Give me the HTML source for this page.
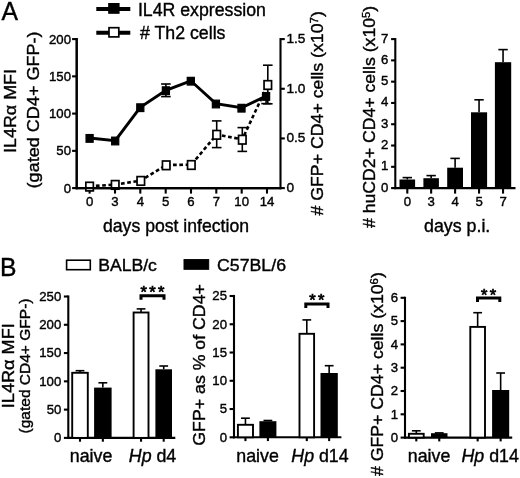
<!DOCTYPE html>
<html><head><meta charset="utf-8"><title>Figure</title>
<style>
html,body{margin:0;padding:0;background:#fff;}
svg{display:block;font-family:"Liberation Sans", Arial, Helvetica, sans-serif;fill:#000;}
text{stroke:#000;stroke-width:0.38px;}
</style></head><body>
<svg width="520" height="478" viewBox="0 0 520 478">
<rect x="0" y="0" width="520" height="478" fill="#fff" stroke="none"/>
<text x="1.60" y="19.90" font-size="26.2" text-anchor="start" textLength="16.5" lengthAdjust="spacingAndGlyphs" >A</text>
<line x1="96.30" y1="9.00" x2="130.30" y2="9.00" stroke="#000" stroke-width="4.1" />
<rect x="108.80" y="3.60" width="10.20" height="9.60" fill="#000" stroke="#000" stroke-width="1.2"/>
<text x="137.90" y="15.50" font-size="18" text-anchor="start" textLength="128" lengthAdjust="spacingAndGlyphs" >IL4R expression</text>
<line x1="96.30" y1="32.80" x2="130.30" y2="32.80" stroke="#000" stroke-width="4.1" />
<rect x="109.00" y="27.70" width="9.80" height="9.20" fill="#fff" stroke="#000" stroke-width="1.7"/>
<text x="140.00" y="38.80" font-size="18" text-anchor="start" textLength="85.5" lengthAdjust="spacingAndGlyphs" ># Th2 cells</text>
<line x1="76.70" y1="38.05" x2="76.70" y2="189.15" stroke="#000" stroke-width="2.1" />
<line x1="75.65" y1="188.10" x2="281.30" y2="188.10" stroke="#000" stroke-width="2.1" />
<line x1="72.10" y1="188.10" x2="76.70" y2="188.10" stroke="#000" stroke-width="2.1" />
<text x="71.00" y="192.70" font-size="13.2" text-anchor="end" >0</text>
<line x1="72.10" y1="150.85" x2="76.70" y2="150.85" stroke="#000" stroke-width="2.1" />
<text x="71.00" y="155.45" font-size="13.2" text-anchor="end" >50</text>
<line x1="72.10" y1="113.60" x2="76.70" y2="113.60" stroke="#000" stroke-width="2.1" />
<text x="71.00" y="118.20" font-size="13.2" text-anchor="end" >100</text>
<line x1="72.10" y1="76.35" x2="76.70" y2="76.35" stroke="#000" stroke-width="2.1" />
<text x="71.00" y="80.95" font-size="13.2" text-anchor="end" >150</text>
<line x1="72.10" y1="39.10" x2="76.70" y2="39.10" stroke="#000" stroke-width="2.1" />
<text x="71.00" y="43.70" font-size="13.2" text-anchor="end" >200</text>
<line x1="89.60" y1="188.10" x2="89.60" y2="193.60" stroke="#000" stroke-width="2.1" />
<text x="89.60" y="205.50" font-size="13.2" text-anchor="middle" >0</text>
<line x1="115.00" y1="188.10" x2="115.00" y2="193.60" stroke="#000" stroke-width="2.1" />
<text x="115.00" y="205.50" font-size="13.2" text-anchor="middle" >3</text>
<line x1="140.30" y1="188.10" x2="140.30" y2="193.60" stroke="#000" stroke-width="2.1" />
<text x="140.30" y="205.50" font-size="13.2" text-anchor="middle" >4</text>
<line x1="165.70" y1="188.10" x2="165.70" y2="193.60" stroke="#000" stroke-width="2.1" />
<text x="165.70" y="205.50" font-size="13.2" text-anchor="middle" >5</text>
<line x1="191.00" y1="188.10" x2="191.00" y2="193.60" stroke="#000" stroke-width="2.1" />
<text x="191.00" y="205.50" font-size="13.2" text-anchor="middle" >6</text>
<line x1="216.30" y1="188.10" x2="216.30" y2="193.60" stroke="#000" stroke-width="2.1" />
<text x="216.30" y="205.50" font-size="13.2" text-anchor="middle" >7</text>
<line x1="241.70" y1="188.10" x2="241.70" y2="193.60" stroke="#000" stroke-width="2.1" />
<text x="241.70" y="205.50" font-size="13.2" text-anchor="middle" >10</text>
<line x1="267.00" y1="188.10" x2="267.00" y2="193.60" stroke="#000" stroke-width="2.1" />
<text x="267.00" y="205.50" font-size="13.2" text-anchor="middle" >14</text>
<text x="103.00" y="232.00" font-size="18.4" text-anchor="start" textLength="146" lengthAdjust="spacingAndGlyphs" >days post infection</text>
<line x1="280.50" y1="38.05" x2="280.50" y2="189.15" stroke="#000" stroke-width="2.1" />
<line x1="280.50" y1="188.10" x2="284.80" y2="188.10" stroke="#000" stroke-width="2.1" />
<text x="286.40" y="192.10" font-size="13.7" text-anchor="start" >0</text>
<line x1="280.50" y1="138.43" x2="284.80" y2="138.43" stroke="#000" stroke-width="2.1" />
<text x="286.40" y="142.43" font-size="13.7" text-anchor="start" >0.5</text>
<line x1="280.50" y1="88.77" x2="284.80" y2="88.77" stroke="#000" stroke-width="2.1" />
<text x="286.40" y="92.77" font-size="13.7" text-anchor="start" >1.0</text>
<line x1="280.50" y1="39.10" x2="284.80" y2="39.10" stroke="#000" stroke-width="2.1" />
<text x="286.40" y="43.10" font-size="13.7" text-anchor="start" >1.5</text>
<text transform="translate(16.40,153.00) rotate(-90)" font-size="17.3" text-anchor="start" textLength="84" lengthAdjust="spacingAndGlyphs">IL4Rα MFI</text>
<text transform="translate(39.00,188.40) rotate(-90)" font-size="17" text-anchor="start" textLength="157" lengthAdjust="spacingAndGlyphs">(gated CD4+ GFP-)</text>
<text transform="translate(322.70,215.60) rotate(-90)" font-size="17.2" text-anchor="start" textLength="204.4" lengthAdjust="spacingAndGlyphs"># GFP+ CD4+ cells (x10<tspan font-size="11" dy="-4.8">7</tspan><tspan dy="4.8">)</tspan></text>
<polyline points="89.6,186.3 115.2,184.6 140.8,180.6 166.2,165.0 191.3,164.7 216.7,134.5 242.3,139.4 267.8,84.7" fill="none" stroke="#000" stroke-width="2.6" stroke-dasharray="3.7,2.6"/>
<line x1="216.70" y1="120.90" x2="216.70" y2="147.60" stroke="#000" stroke-width="1.6" />
<line x1="211.90" y1="120.90" x2="221.50" y2="120.90" stroke="#000" stroke-width="1.6" />
<line x1="211.90" y1="147.60" x2="221.50" y2="147.60" stroke="#000" stroke-width="1.6" />
<line x1="242.30" y1="127.60" x2="242.30" y2="151.40" stroke="#000" stroke-width="1.6" />
<line x1="237.50" y1="127.60" x2="247.10" y2="127.60" stroke="#000" stroke-width="1.6" />
<line x1="237.50" y1="151.40" x2="247.10" y2="151.40" stroke="#000" stroke-width="1.6" />
<line x1="267.80" y1="65.20" x2="267.80" y2="103.80" stroke="#000" stroke-width="1.6" />
<line x1="263.00" y1="65.20" x2="272.60" y2="65.20" stroke="#000" stroke-width="1.6" />
<line x1="263.00" y1="103.80" x2="272.60" y2="103.80" stroke="#000" stroke-width="1.6" />
<polyline points="89.6,138.0 115.2,140.6 140.3,107.3 165.9,90.3 190.8,80.8 215.9,103.6 241.5,107.8 266.1,96.0" fill="none" stroke="#000" stroke-width="2.9" stroke-linejoin="miter"/>
<line x1="165.90" y1="84.00" x2="165.90" y2="96.60" stroke="#000" stroke-width="1.6" />
<line x1="161.10" y1="84.00" x2="170.70" y2="84.00" stroke="#000" stroke-width="1.6" />
<line x1="161.10" y1="96.60" x2="170.70" y2="96.60" stroke="#000" stroke-width="1.6" />
<line x1="266.10" y1="96.00" x2="266.10" y2="103.60" stroke="#000" stroke-width="1.6" />
<line x1="261.30" y1="103.60" x2="270.90" y2="103.60" stroke="#000" stroke-width="1.6" />
<rect x="85.85" y="182.30" width="7.50" height="8.60" fill="#fff" stroke="#000" stroke-width="1.7"/>
<rect x="111.45" y="180.60" width="7.50" height="8.60" fill="#fff" stroke="#000" stroke-width="1.7"/>
<rect x="137.05" y="176.60" width="7.50" height="8.60" fill="#fff" stroke="#000" stroke-width="1.7"/>
<rect x="162.45" y="161.00" width="7.50" height="8.60" fill="#fff" stroke="#000" stroke-width="1.7"/>
<rect x="187.55" y="160.70" width="7.50" height="8.60" fill="#fff" stroke="#000" stroke-width="1.7"/>
<rect x="212.95" y="130.50" width="7.50" height="8.60" fill="#fff" stroke="#000" stroke-width="1.7"/>
<rect x="238.55" y="135.40" width="7.50" height="8.60" fill="#fff" stroke="#000" stroke-width="1.7"/>
<rect x="264.05" y="80.70" width="7.50" height="8.60" fill="#fff" stroke="#000" stroke-width="1.7"/>
<rect x="86.05" y="134.55" width="7.10" height="7.70" fill="#000" stroke="#000" stroke-width="1.2"/>
<rect x="111.65" y="137.15" width="7.10" height="7.70" fill="#000" stroke="#000" stroke-width="1.2"/>
<rect x="136.75" y="103.85" width="7.10" height="7.70" fill="#000" stroke="#000" stroke-width="1.2"/>
<rect x="162.35" y="86.85" width="7.10" height="7.70" fill="#000" stroke="#000" stroke-width="1.2"/>
<rect x="187.25" y="77.35" width="7.10" height="7.70" fill="#000" stroke="#000" stroke-width="1.2"/>
<rect x="212.35" y="100.15" width="7.10" height="7.70" fill="#000" stroke="#000" stroke-width="1.2"/>
<rect x="237.95" y="104.35" width="7.10" height="7.70" fill="#000" stroke="#000" stroke-width="1.2"/>
<rect x="262.55" y="92.55" width="7.10" height="7.70" fill="#000" stroke="#000" stroke-width="1.2"/>
<line x1="75.65" y1="188.10" x2="281.30" y2="188.10" stroke="#000" stroke-width="2.1" />
<line x1="76.70" y1="38.05" x2="76.70" y2="189.15" stroke="#000" stroke-width="2.1" />
<line x1="395.30" y1="38.05" x2="395.30" y2="189.15" stroke="#000" stroke-width="2.1" />
<line x1="394.25" y1="188.10" x2="515.50" y2="188.10" stroke="#000" stroke-width="2.1" />
<line x1="391.10" y1="188.10" x2="395.30" y2="188.10" stroke="#000" stroke-width="2.1" />
<text x="388.30" y="191.50" font-size="13.2" text-anchor="end" >0</text>
<line x1="391.10" y1="166.81" x2="395.30" y2="166.81" stroke="#000" stroke-width="2.1" />
<text x="388.30" y="170.21" font-size="13.2" text-anchor="end" >1</text>
<line x1="391.10" y1="145.53" x2="395.30" y2="145.53" stroke="#000" stroke-width="2.1" />
<text x="388.30" y="148.93" font-size="13.2" text-anchor="end" >2</text>
<line x1="391.10" y1="124.24" x2="395.30" y2="124.24" stroke="#000" stroke-width="2.1" />
<text x="388.30" y="127.64" font-size="13.2" text-anchor="end" >3</text>
<line x1="391.10" y1="102.96" x2="395.30" y2="102.96" stroke="#000" stroke-width="2.1" />
<text x="388.30" y="106.36" font-size="13.2" text-anchor="end" >4</text>
<line x1="391.10" y1="81.67" x2="395.30" y2="81.67" stroke="#000" stroke-width="2.1" />
<text x="388.30" y="85.07" font-size="13.2" text-anchor="end" >5</text>
<line x1="391.10" y1="60.39" x2="395.30" y2="60.39" stroke="#000" stroke-width="2.1" />
<text x="388.30" y="63.79" font-size="13.2" text-anchor="end" >6</text>
<line x1="391.10" y1="39.10" x2="395.30" y2="39.10" stroke="#000" stroke-width="2.1" />
<text x="388.30" y="42.50" font-size="13.2" text-anchor="end" >7</text>
<line x1="407.30" y1="188.10" x2="407.30" y2="193.60" stroke="#000" stroke-width="2.1" />
<line x1="407.30" y1="177.60" x2="407.30" y2="179.50" stroke="#000" stroke-width="1.6" />
<line x1="402.60" y1="177.60" x2="412.00" y2="177.60" stroke="#000" stroke-width="1.6" />
<rect x="399.50" y="179.50" width="15.60" height="8.60" fill="#000"/>
<text x="407.30" y="205.50" font-size="13.2" text-anchor="middle" >0</text>
<line x1="431.15" y1="188.10" x2="431.15" y2="193.60" stroke="#000" stroke-width="2.1" />
<line x1="431.15" y1="175.60" x2="431.15" y2="178.20" stroke="#000" stroke-width="1.6" />
<line x1="426.45" y1="175.60" x2="435.85" y2="175.60" stroke="#000" stroke-width="1.6" />
<rect x="423.40" y="178.20" width="15.50" height="9.90" fill="#000"/>
<text x="431.15" y="205.50" font-size="13.2" text-anchor="middle" >3</text>
<line x1="455.10" y1="188.10" x2="455.10" y2="193.60" stroke="#000" stroke-width="2.1" />
<line x1="455.10" y1="158.40" x2="455.10" y2="167.70" stroke="#000" stroke-width="1.6" />
<line x1="450.40" y1="158.40" x2="459.80" y2="158.40" stroke="#000" stroke-width="1.6" />
<rect x="447.20" y="167.70" width="15.80" height="20.40" fill="#000"/>
<text x="455.10" y="205.50" font-size="13.2" text-anchor="middle" >4</text>
<line x1="479.05" y1="188.10" x2="479.05" y2="193.60" stroke="#000" stroke-width="2.1" />
<line x1="479.05" y1="99.80" x2="479.05" y2="112.30" stroke="#000" stroke-width="1.6" />
<line x1="474.35" y1="99.80" x2="483.75" y2="99.80" stroke="#000" stroke-width="1.6" />
<rect x="471.00" y="112.30" width="16.10" height="75.80" fill="#000"/>
<text x="479.05" y="205.50" font-size="13.2" text-anchor="middle" >5</text>
<line x1="503.05" y1="188.10" x2="503.05" y2="193.60" stroke="#000" stroke-width="2.1" />
<line x1="503.05" y1="49.60" x2="503.05" y2="62.20" stroke="#000" stroke-width="1.6" />
<line x1="498.35" y1="49.60" x2="507.75" y2="49.60" stroke="#000" stroke-width="1.6" />
<rect x="494.90" y="62.20" width="16.30" height="125.90" fill="#000"/>
<text x="503.05" y="205.50" font-size="13.2" text-anchor="middle" >7</text>
<text x="424.00" y="232.20" font-size="18.3" text-anchor="start" textLength="66.3" lengthAdjust="spacingAndGlyphs" >days p.i.</text>
<text transform="translate(374.80,228.00) rotate(-90)" font-size="17.2" text-anchor="start" textLength="222.2" lengthAdjust="spacingAndGlyphs"># huCD2+ CD4+ cells (x10<tspan font-size="11" dy="-4.8">5</tspan><tspan dy="4.8">)</tspan></text>
<text x="-0.10" y="275.60" font-size="25.8" text-anchor="start" textLength="16.5" lengthAdjust="spacingAndGlyphs" >B</text>
<rect x="66.60" y="260.20" width="23.70" height="9.50" fill="#fff" stroke="#000" stroke-width="1.6"/>
<text x="98.20" y="270.60" font-size="16.9" text-anchor="start" textLength="58.7" lengthAdjust="spacingAndGlyphs" >BALB/c</text>
<rect x="184.00" y="259.60" width="24.70" height="9.70" fill="#000" stroke="#000" stroke-width="1.0"/>
<text x="217.00" y="270.50" font-size="16.9" text-anchor="start" textLength="69" lengthAdjust="spacingAndGlyphs" >C57BL/6</text>
<line x1="68.30" y1="295.45" x2="68.30" y2="438.95" stroke="#000" stroke-width="2.1" />
<line x1="67.25" y1="437.90" x2="175.30" y2="437.90" stroke="#000" stroke-width="2.1" />
<line x1="63.90" y1="437.90" x2="68.30" y2="437.90" stroke="#000" stroke-width="2.1" />
<text x="61.30" y="442.20" font-size="13.2" text-anchor="end" >0</text>
<line x1="63.90" y1="409.62" x2="68.30" y2="409.62" stroke="#000" stroke-width="2.1" />
<text x="61.30" y="413.92" font-size="13.2" text-anchor="end" >50</text>
<line x1="63.90" y1="381.34" x2="68.30" y2="381.34" stroke="#000" stroke-width="2.1" />
<text x="61.30" y="385.64" font-size="13.2" text-anchor="end" >100</text>
<line x1="63.90" y1="353.06" x2="68.30" y2="353.06" stroke="#000" stroke-width="2.1" />
<text x="61.30" y="357.36" font-size="13.2" text-anchor="end" >150</text>
<line x1="63.90" y1="324.78" x2="68.30" y2="324.78" stroke="#000" stroke-width="2.1" />
<text x="61.30" y="329.08" font-size="13.2" text-anchor="end" >200</text>
<line x1="63.90" y1="296.50" x2="68.30" y2="296.50" stroke="#000" stroke-width="2.1" />
<text x="61.30" y="300.80" font-size="13.2" text-anchor="end" >250</text>
<line x1="80.00" y1="437.90" x2="80.00" y2="441.70" stroke="#000" stroke-width="2.1" />
<line x1="80.00" y1="370.70" x2="80.00" y2="372.30" stroke="#000" stroke-width="1.6" />
<line x1="75.60" y1="370.70" x2="84.40" y2="370.70" stroke="#000" stroke-width="1.6" />
<rect x="72.20" y="372.80" width="15.60" height="65.10" fill="#fff" stroke="#000" stroke-width="1.9"/>
<line x1="102.85" y1="437.90" x2="102.85" y2="441.70" stroke="#000" stroke-width="2.1" />
<line x1="102.85" y1="382.80" x2="102.85" y2="387.60" stroke="#000" stroke-width="1.6" />
<line x1="98.45" y1="382.80" x2="107.25" y2="382.80" stroke="#000" stroke-width="1.6" />
<rect x="94.10" y="387.60" width="17.50" height="50.30" fill="#000"/>
<line x1="141.05" y1="437.90" x2="141.05" y2="441.70" stroke="#000" stroke-width="2.1" />
<line x1="141.05" y1="308.90" x2="141.05" y2="312.00" stroke="#000" stroke-width="1.6" />
<line x1="136.65" y1="308.90" x2="145.45" y2="308.90" stroke="#000" stroke-width="1.6" />
<rect x="133.60" y="312.50" width="14.90" height="125.40" fill="#fff" stroke="#000" stroke-width="1.9"/>
<line x1="163.70" y1="437.90" x2="163.70" y2="441.70" stroke="#000" stroke-width="2.1" />
<line x1="163.70" y1="366.00" x2="163.70" y2="369.30" stroke="#000" stroke-width="1.6" />
<line x1="159.30" y1="366.00" x2="168.10" y2="366.00" stroke="#000" stroke-width="1.6" />
<rect x="155.40" y="369.30" width="16.60" height="68.60" fill="#000"/>
<text x="69.80" y="462.0" font-size="17.8">naive</text>
<text x="128.80" y="462.0" font-size="17.8"><tspan font-style="italic">Hp</tspan> d4</text>
<polyline points="141.0,299.7 141.0,295.7 164.0,295.7 164.0,299.7" fill="none" stroke="#000" stroke-width="3"/>
<text x="143.70" y="297.90" font-size="16.5" text-anchor="middle" style="stroke-width:0.7px">*</text>
<text x="152.50" y="297.90" font-size="16.5" text-anchor="middle" style="stroke-width:0.7px">*</text>
<text x="161.30" y="297.90" font-size="16.5" text-anchor="middle" style="stroke-width:0.7px">*</text>
<line x1="234.00" y1="294.95" x2="234.00" y2="438.35" stroke="#000" stroke-width="2.1" />
<line x1="232.95" y1="437.30" x2="341.40" y2="437.30" stroke="#000" stroke-width="2.1" />
<line x1="229.60" y1="437.30" x2="234.00" y2="437.30" stroke="#000" stroke-width="2.1" />
<text x="227.00" y="441.60" font-size="13.2" text-anchor="end" >0</text>
<line x1="229.60" y1="409.04" x2="234.00" y2="409.04" stroke="#000" stroke-width="2.1" />
<text x="227.00" y="413.34" font-size="13.2" text-anchor="end" >5</text>
<line x1="229.60" y1="380.78" x2="234.00" y2="380.78" stroke="#000" stroke-width="2.1" />
<text x="227.00" y="385.08" font-size="13.2" text-anchor="end" >10</text>
<line x1="229.60" y1="352.52" x2="234.00" y2="352.52" stroke="#000" stroke-width="2.1" />
<text x="227.00" y="356.82" font-size="13.2" text-anchor="end" >15</text>
<line x1="229.60" y1="324.26" x2="234.00" y2="324.26" stroke="#000" stroke-width="2.1" />
<text x="227.00" y="328.56" font-size="13.2" text-anchor="end" >20</text>
<line x1="229.60" y1="296.00" x2="234.00" y2="296.00" stroke="#000" stroke-width="2.1" />
<text x="227.00" y="300.30" font-size="13.2" text-anchor="end" >25</text>
<line x1="245.45" y1="437.30" x2="245.45" y2="441.10" stroke="#000" stroke-width="2.1" />
<line x1="245.45" y1="418.20" x2="245.45" y2="424.30" stroke="#000" stroke-width="1.6" />
<line x1="241.05" y1="418.20" x2="249.85" y2="418.20" stroke="#000" stroke-width="1.6" />
<rect x="237.90" y="424.80" width="15.10" height="12.50" fill="#fff" stroke="#000" stroke-width="1.9"/>
<line x1="267.90" y1="437.30" x2="267.90" y2="441.10" stroke="#000" stroke-width="2.1" />
<line x1="267.90" y1="420.50" x2="267.90" y2="421.20" stroke="#000" stroke-width="1.6" />
<line x1="263.50" y1="420.50" x2="272.30" y2="420.50" stroke="#000" stroke-width="1.6" />
<rect x="259.40" y="421.20" width="17.00" height="16.10" fill="#000"/>
<line x1="306.80" y1="437.30" x2="306.80" y2="441.10" stroke="#000" stroke-width="2.1" />
<line x1="306.80" y1="319.90" x2="306.80" y2="333.30" stroke="#000" stroke-width="1.6" />
<line x1="302.40" y1="319.90" x2="311.20" y2="319.90" stroke="#000" stroke-width="1.6" />
<rect x="299.50" y="333.80" width="14.60" height="103.50" fill="#fff" stroke="#000" stroke-width="1.9"/>
<line x1="329.15" y1="437.30" x2="329.15" y2="441.10" stroke="#000" stroke-width="2.1" />
<line x1="329.15" y1="365.70" x2="329.15" y2="373.00" stroke="#000" stroke-width="1.6" />
<line x1="324.75" y1="365.70" x2="333.55" y2="365.70" stroke="#000" stroke-width="1.6" />
<rect x="320.50" y="373.00" width="17.30" height="64.30" fill="#000"/>
<text x="236.30" y="462.0" font-size="17.8">naive</text>
<text x="291.30" y="462.0" font-size="17.8"><tspan font-style="italic">Hp</tspan> d14</text>
<polyline points="305.8,308.1 305.8,304.1 328.0,304.1 328.0,308.1" fill="none" stroke="#000" stroke-width="3"/>
<text x="312.50" y="306.30" font-size="16.5" text-anchor="middle" style="stroke-width:0.7px">*</text>
<text x="321.30" y="306.30" font-size="16.5" text-anchor="middle" style="stroke-width:0.7px">*</text>
<line x1="405.00" y1="296.75" x2="405.00" y2="438.65" stroke="#000" stroke-width="2.1" />
<line x1="403.95" y1="437.60" x2="512.20" y2="437.60" stroke="#000" stroke-width="2.1" />
<line x1="400.60" y1="437.60" x2="405.00" y2="437.60" stroke="#000" stroke-width="2.1" />
<text x="398.00" y="441.90" font-size="13.2" text-anchor="end" >0</text>
<line x1="400.60" y1="414.30" x2="405.00" y2="414.30" stroke="#000" stroke-width="2.1" />
<text x="398.00" y="418.60" font-size="13.2" text-anchor="end" >1</text>
<line x1="400.60" y1="391.00" x2="405.00" y2="391.00" stroke="#000" stroke-width="2.1" />
<text x="398.00" y="395.30" font-size="13.2" text-anchor="end" >2</text>
<line x1="400.60" y1="367.70" x2="405.00" y2="367.70" stroke="#000" stroke-width="2.1" />
<text x="398.00" y="372.00" font-size="13.2" text-anchor="end" >3</text>
<line x1="400.60" y1="344.40" x2="405.00" y2="344.40" stroke="#000" stroke-width="2.1" />
<text x="398.00" y="348.70" font-size="13.2" text-anchor="end" >4</text>
<line x1="400.60" y1="321.10" x2="405.00" y2="321.10" stroke="#000" stroke-width="2.1" />
<text x="398.00" y="325.40" font-size="13.2" text-anchor="end" >5</text>
<line x1="400.60" y1="297.80" x2="405.00" y2="297.80" stroke="#000" stroke-width="2.1" />
<text x="398.00" y="302.10" font-size="13.2" text-anchor="end" >6</text>
<line x1="416.30" y1="437.60" x2="416.30" y2="441.40" stroke="#000" stroke-width="2.1" />
<line x1="416.30" y1="430.80" x2="416.30" y2="433.30" stroke="#000" stroke-width="1.6" />
<line x1="411.90" y1="430.80" x2="420.70" y2="430.80" stroke="#000" stroke-width="1.6" />
<rect x="408.90" y="433.80" width="14.80" height="3.80" fill="#fff" stroke="#000" stroke-width="1.9"/>
<line x1="439.25" y1="437.60" x2="439.25" y2="441.40" stroke="#000" stroke-width="2.1" />
<line x1="439.25" y1="432.90" x2="439.25" y2="433.20" stroke="#000" stroke-width="1.6" />
<line x1="434.85" y1="432.90" x2="443.65" y2="432.90" stroke="#000" stroke-width="1.6" />
<rect x="431.00" y="433.20" width="16.50" height="4.40" fill="#000"/>
<line x1="477.65" y1="437.60" x2="477.65" y2="441.40" stroke="#000" stroke-width="2.1" />
<line x1="477.65" y1="312.70" x2="477.65" y2="326.40" stroke="#000" stroke-width="1.6" />
<line x1="473.25" y1="312.70" x2="482.05" y2="312.70" stroke="#000" stroke-width="1.6" />
<rect x="470.30" y="326.90" width="14.70" height="110.70" fill="#fff" stroke="#000" stroke-width="1.9"/>
<line x1="500.65" y1="437.60" x2="500.65" y2="441.40" stroke="#000" stroke-width="2.1" />
<line x1="500.65" y1="373.00" x2="500.65" y2="390.00" stroke="#000" stroke-width="1.6" />
<line x1="496.25" y1="373.00" x2="505.05" y2="373.00" stroke="#000" stroke-width="1.6" />
<rect x="492.10" y="390.00" width="17.10" height="47.60" fill="#000"/>
<text x="407.80" y="462.0" font-size="17.8">naive</text>
<text x="461.50" y="462.0" font-size="17.8"><tspan font-style="italic">Hp</tspan> d14</text>
<polyline points="477.5,301.9 477.5,297.9 499.8,297.9 499.8,301.9" fill="none" stroke="#000" stroke-width="3"/>
<text x="484.25" y="300.70" font-size="16.5" text-anchor="middle" style="stroke-width:0.7px">*</text>
<text x="493.05" y="300.70" font-size="16.5" text-anchor="middle" style="stroke-width:0.7px">*</text>
<text transform="translate(14.10,408.20) rotate(-90)" font-size="16.6" text-anchor="start" textLength="85" lengthAdjust="spacingAndGlyphs">IL4Rα MFI</text>
<text transform="translate(30.10,433.50) rotate(-90)" font-size="14.3" text-anchor="start" textLength="135" lengthAdjust="spacingAndGlyphs">(gated CD4+ GFP-)</text>
<text transform="translate(205.20,445.70) rotate(-90)" font-size="17.2" text-anchor="start" textLength="161.6" lengthAdjust="spacingAndGlyphs">GFP+ as % of CD4+</text>
<text transform="translate(383.20,476.10) rotate(-90)" font-size="17.2" text-anchor="start" textLength="203.9" lengthAdjust="spacingAndGlyphs"># GFP+ CD4+ cells (x10<tspan font-size="11" dy="-4.8">6</tspan><tspan dy="4.8">)</tspan></text>
</svg>
</body></html>
